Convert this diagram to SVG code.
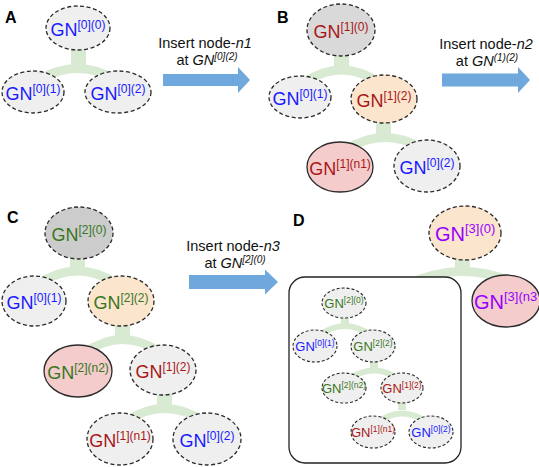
<svg xmlns="http://www.w3.org/2000/svg" width="539" height="467" viewBox="0 0 539 467">
<style>
  text { font-family: "Liberation Sans", Arial, sans-serif; }
  .lbl { font-size: 16px; font-weight: bold; fill: #000; }
  .nd { stroke: #2a2a2a; stroke-width: 1.3; stroke-dasharray: 4 2.5; fill: #efefef; }
  .nds { stroke: #2a2a2a; stroke-width: 1.1; stroke-dasharray: 3 2; fill: #efefef; }
  .solid { stroke: #2a2a2a; stroke-width: 1.3; fill: #f4cccc; }
  .dk1 { fill: #d9d9d9; }
  .dk2 { fill: #cccccc; }
  .or { fill: #fce5cd; }
  .t { font-size: 18px; text-anchor: middle; }
  .tb { font-size: 20px; text-anchor: start; }
  .ts { font-size: 13px; text-anchor: middle; }
  .sup { font-size: 12px; }
  .supb { font-size: 13px; }
  .sups { font-size: 8.5px; }
  .blue { fill: #1a1aff; }
  .red { fill: #a81717; }
  .green { fill: #38761d; }
  .purple { fill: #9900ff; }
  .arm { fill: none; stroke: #d9ead3; stroke-width: 9; }
  .arms { fill: none; stroke: #d9ead3; stroke-width: 6; }
  .stem { fill: #d9ead3; }
  .arrow { fill: #6fa8dc; }
  .cap { font-size: 14.5px; fill: #111; text-anchor: middle; }
  .capsup { font-size: 10px; font-style: italic; }
  .it { font-style: italic; }
</style>

<g id="panel-labels">
  <text class="lbl" x="5" y="23">A</text>
  <text class="lbl" x="277" y="23">B</text>
  <text class="lbl" x="7" y="223">C</text>
  <text class="lbl" x="293" y="226">D</text>
</g>

<g id="connectors">
  <!-- A -->
  <rect class="stem" x="71" y="48" width="15" height="17"/>
  <path class="arm" d="M 40 79 Q 78 58 114 79"/>
  <!-- B -->
  <rect class="stem" x="334" y="54" width="15" height="14"/>
  <path class="arm" d="M 305 82 Q 341 58 379 82"/>
  <rect class="stem" x="376" y="120" width="15" height="15"/>
  <path class="arm" d="M 345 150 Q 383 126 422 148"/>
  <!-- C -->
  <rect class="stem" x="70" y="256" width="15" height="13"/>
  <path class="arm" d="M 40 283 Q 77 259 116 283"/>
  <rect class="stem" x="115" y="324" width="15" height="13"/>
  <path class="arm" d="M 86 352 Q 122 327 160 352"/>
  <rect class="stem" x="157" y="393" width="15" height="14"/>
  <path class="arm" d="M 126 421 Q 164 396 204 421"/>
  <!-- D outer -->
  <rect class="stem" x="455" y="257" width="15" height="13"/>
  <path class="arm" d="M 400 288 Q 463 255 525 288"/>
  <!-- arrows -->
  <polygon class="arrow" points="163,74 238,74 238,67 250,80 238,93 238,86 163,86"/>
  <polygon class="arrow" points="442,73.5 518,73.5 518,67 530,80 518,93 518,86.5 442,86.5"/>
  <polygon class="arrow" points="189,275 265,275 265,269.5 278,282 265,294.5 265,289 189,289"/>
</g>

<g id="captions">
  <text class="cap" x="205" y="48">Insert node-<tspan class="it">n1</tspan></text>
  <text class="cap" x="207" y="65">at <tspan class="it">GN</tspan><tspan class="capsup" dy="-5">[0](2)</tspan></text>
  <text class="cap" x="486" y="49">Insert node-<tspan class="it">n2</tspan></text>
  <text class="cap" x="487" y="66">at <tspan class="it">GN</tspan><tspan class="capsup" dy="-5">(1)(2)</tspan></text>
  <text class="cap" x="233" y="251">Insert node-<tspan class="it">n3</tspan></text>
  <text class="cap" x="235" y="268">at <tspan class="it">GN</tspan><tspan class="capsup" dy="-5">[2](0)</tspan></text>
</g>

<!-- Panel A -->
<g id="A-GN00">
  <ellipse class="nd" cx="78" cy="28" rx="32" ry="22"/>
  <text class="t blue" x="78" y="35.5">GN<tspan class="sup" dy="-7">[0](0)</tspan></text>
</g>
<g id="A-GN01">
  <ellipse class="nd" cx="33" cy="92" rx="31" ry="21"/>
  <text class="t blue" x="33" y="99.5">GN<tspan class="sup" dy="-7">[0](1)</tspan></text>
</g>
<g id="A-GN02">
  <ellipse class="nd" cx="118" cy="92" rx="33" ry="21"/>
  <text class="t blue" x="118" y="99.5">GN<tspan class="sup" dy="-7">[0](2)</tspan></text>
</g>

<!-- Panel B -->
<g id="B-GN10">
  <ellipse class="nd dk1" cx="341" cy="30" rx="34" ry="26"/>
  <text class="t red" x="341" y="37.5">GN<tspan class="sup" dy="-7">[1](0)</tspan></text>
</g>
<g id="B-GN01">
  <ellipse class="nd" cx="300" cy="97" rx="31" ry="21"/>
  <text class="t blue" x="300" y="104.5">GN<tspan class="sup" dy="-7">[0](1)</tspan></text>
</g>
<g id="B-GN12">
  <ellipse class="nd or" cx="384" cy="99" rx="33" ry="24"/>
  <text class="t red" x="384" y="106.5">GN<tspan class="sup" dy="-7">[1](2)</tspan></text>
</g>
<g id="B-GN1n1">
  <ellipse class="solid" cx="340" cy="167" rx="33" ry="25"/>
  <text class="t red" x="340" y="174.5">GN<tspan class="sup" dy="-7">[1](n1)</tspan></text>
</g>
<g id="B-GN02">
  <ellipse class="nd" cx="427" cy="166" rx="33" ry="26"/>
  <text class="t blue" x="427" y="173.5">GN<tspan class="sup" dy="-7">[0](2)</tspan></text>
</g>

<!-- Panel C -->
<g id="C-GN20">
  <ellipse class="nd dk2" cx="79" cy="233" rx="34" ry="26"/>
  <text class="t green" x="79" y="240.5">GN<tspan class="sup" dy="-7">[2](0)</tspan></text>
</g>
<g id="C-GN01">
  <ellipse class="nd" cx="34" cy="301" rx="32" ry="25"/>
  <text class="t blue" x="34" y="308.5">GN<tspan class="sup" dy="-7">[0](1)</tspan></text>
</g>
<g id="C-GN22">
  <ellipse class="nd or" cx="121" cy="301" rx="33" ry="25"/>
  <text class="t green" x="121" y="308.5">GN<tspan class="sup" dy="-7">[2](2)</tspan></text>
</g>
<g id="C-GN2n2">
  <ellipse class="solid" cx="78" cy="371" rx="34" ry="26"/>
  <text class="t green" x="78" y="378.5">GN<tspan class="sup" dy="-7">[2](n2)</tspan></text>
</g>
<g id="C-GN12">
  <ellipse class="nd" cx="163" cy="370" rx="33" ry="25"/>
  <text class="t red" x="163" y="377.5">GN<tspan class="sup" dy="-7">[1](2)</tspan></text>
</g>
<g id="C-GN1n1">
  <ellipse class="nd" cx="120" cy="439" rx="33" ry="26"/>
  <text class="t red" x="120" y="446.5">GN<tspan class="sup" dy="-7">[1](n1)</tspan></text>
</g>
<g id="C-GN02">
  <ellipse class="nd" cx="207" cy="439" rx="34" ry="26"/>
  <text class="t blue" x="207" y="446.5">GN<tspan class="sup" dy="-7">[0](2)</tspan></text>
</g>

<!-- Panel D -->
<g id="D-GN30">
  <ellipse class="nd or" cx="465" cy="233" rx="36" ry="27"/>
  <text class="tb purple" x="435" y="241">GN<tspan class="supb" dy="-8">[3](0)</tspan></text>
</g>
<g id="D-GN3n3">
  <ellipse class="solid" cx="506" cy="301" rx="34" ry="26"/>
  <text class="tb purple" x="474" y="309">GN<tspan class="supb" dy="-8">[3](n3</tspan></text>
</g>
<g id="D-box">
  <rect x="289" y="277" width="172" height="186" rx="16" ry="16" fill="#ffffff" stroke="#222" stroke-width="1.3"/>
  <rect class="stem" x="341" y="316" width="8" height="9"/>
  <path class="arms" d="M 318 336 Q 345 316 372 336"/>
  <rect class="stem" x="370" y="360" width="8" height="9"/>
  <path class="arms" d="M 346 381 Q 374 360 402 381"/>
  <rect class="stem" x="398" y="401" width="8" height="9"/>
  <path class="arms" d="M 375 424 Q 402 403 430 424"/>
</g>
<g id="D-GN20">
  <ellipse class="nds" cx="344" cy="303" rx="22" ry="15"/>
  <text class="ts green" x="344" y="308">GN<tspan class="sups" dy="-5">[2](0)</tspan></text>
</g>
<g id="D-GN01">
  <ellipse class="nds" cx="315" cy="346" rx="22" ry="16"/>
  <text class="ts blue" x="315" y="351">GN<tspan class="sups" dy="-5">[0](1)</tspan></text>
</g>
<g id="D-GN22">
  <ellipse class="nds" cx="373" cy="346" rx="22" ry="16"/>
  <text class="ts green" x="373" y="351">GN<tspan class="sups" dy="-5">[2](2)</tspan></text>
</g>
<g id="D-GN2n2">
  <ellipse class="nds" cx="344" cy="388" rx="22" ry="15"/>
  <text class="ts green" x="344" y="393">GN<tspan class="sups" dy="-5">[2](n2)</tspan></text>
</g>
<g id="D-GN12">
  <ellipse class="nds" cx="402" cy="388" rx="21" ry="15"/>
  <text class="ts red" x="402" y="393">GN<tspan class="sups" dy="-5">[1](2)</tspan></text>
</g>
<g id="D-GN1n1">
  <ellipse class="nds" cx="373" cy="432" rx="22" ry="16"/>
  <text class="ts red" x="373" y="437">GN<tspan class="sups" dy="-5">[1](n1)</tspan></text>
</g>
<g id="D-GN02">
  <ellipse class="nds" cx="431" cy="432" rx="22" ry="16"/>
  <text class="ts blue" x="431" y="437">GN<tspan class="sups" dy="-5">[0](2)</tspan></text>
</g>
</svg>
